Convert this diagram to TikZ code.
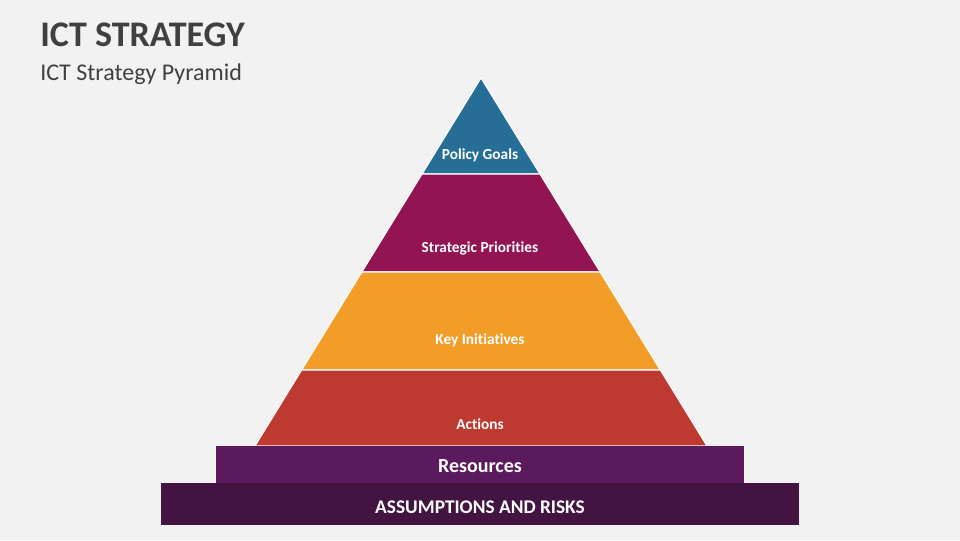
\documentclass[tikz,border=0pt]{standalone}
\usepackage{fontspec}
\setmainfont{Carlito}[Ligatures={NoCommon}]
\usepackage{tikz}
\usetikzlibrary{calc}
\definecolor{bgcol}{HTML}{F2F2F2}
\definecolor{titlecol}{HTML}{404040}
\definecolor{goalcol}{HTML}{266E96}
\definecolor{prioritycol}{HTML}{931452}
\definecolor{initcol}{HTML}{F29D28}
\definecolor{actioncol}{HTML}{BE3A30}
\definecolor{resourcecol}{HTML}{5A1A5C}
\definecolor{riskcol}{HTML}{431342}
\tikzset{%
  layer/.style={draw=white,line width=0.8pt,line join=miter},
  lbl/.style={text=white,inner sep=0,anchor=base,font=\bfseries\fontsize{11.5}{14}\selectfont},
  barlbl/.style={text=white,inner sep=0,anchor=base,font=\bfseries\fontsize{14.5}{16}\selectfont}
}
\begin{document}
\begin{tikzpicture}[x=0.75pt,y=-0.75pt]
      \fill[bgcol] (0,0) rectangle (960,540);
      \useasboundingbox (0,0) rectangle (960,540);
      % title
      \node (title)[anchor=base west,inner sep=0,text=titlecol,font=\bfseries\fontsize{27}{30}\selectfont] at (40,46) {ICT STRATEGY};
      \node (subtitle)[anchor=base west,inner sep=0,text=titlecol,font=\fontsize{18}{20}\selectfont] at (40,80) {ICT Strategy Pyramid};
      % pyramid
      \coordinate (apex) at (481,78);
      \coordinate (bl) at (255,446);
      \coordinate (br) at (707,446);
      \coordinate (l_1) at ($(apex)!0.2609!(bl)$);
      \coordinate (r_1) at ($(apex)!0.2609!(br)$);
      \coordinate (l_2) at ($(apex)!0.5272!(bl)$);
      \coordinate (r_2) at ($(apex)!0.5272!(br)$);
      \coordinate (l_3) at ($(apex)!0.7935!(bl)$);
      \coordinate (r_3) at ($(apex)!0.7935!(br)$);
      \path[layer,fill=goalcol] (apex) -- (r_1) -- (l_1) -- cycle;
      \path[layer,fill=prioritycol] (l_1) -- (r_1) -- (r_2) -- (l_2) -- cycle;
      \path[layer,fill=initcol] (l_2) -- (r_2) -- (r_3) -- (l_3) -- cycle;
      \path[layer,fill=actioncol] (l_3) -- (r_3) -- (br) -- (bl) -- cycle;
      \fill[resourcecol] (216,446) rectangle (744,483);
      \fill[riskcol] (161,483) rectangle (799,525);
      % labels
      \node (goals)[lbl] at (480,159) {Policy Goals};
      \node (priorities)[lbl] at (480,252) {Strategic Priorities};
      \node (initiatives)[lbl] at (480,344) {Key Initiatives};
      \node (actions)[lbl] at (480,429) {Actions};
      \node (resources)[barlbl,font=\bfseries\fontsize{15}{17}\selectfont] at (480,472) {Resources};
      \node (risks)[barlbl] at (480,513) {ASSUMPTIONS AND RISKS};
    \end{tikzpicture}
\end{document}
